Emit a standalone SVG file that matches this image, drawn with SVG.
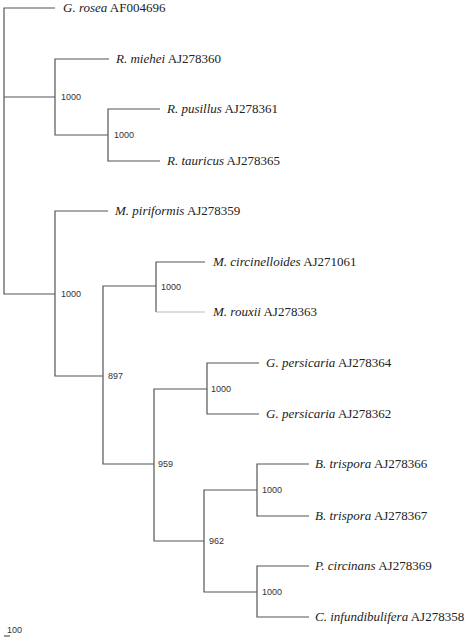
<svg xmlns="http://www.w3.org/2000/svg" width="474" height="644" viewBox="0 0 474 644">
<style>
.br{fill:none;stroke:#555;stroke-width:1.2}
.lt{stroke:#bbb}
.tx{font-family:"Liberation Serif","Times New Roman",serif;font-size:13px;fill:#222}
.it{font-style:italic}
.bs{font-family:"Liberation Sans",Arial,sans-serif;font-size:9px;fill:#333}
</style>
<rect width="474" height="644" fill="#fff"/>
<g id="connectors">
<path class="br" d="M55,8H4V294H55"/>
<path class="br" d="M4,97H55"/>
<path class="br" d="M109,59H55V135H108"/>
<path class="br" d="M160,109H108V161H160"/>
<path class="br" d="M108,211H55V376H103"/>
<path class="br" d="M156,286H103V464H154"/>
<path class="br" d="M205,262H156V312"/>
<path class="br lt" d="M156,312H205"/>
<path class="br" d="M207,389H154V541H204"/>
<path class="br" d="M259,363H207V414H259"/>
<path class="br" d="M257,490H204V592H257"/>
<path class="br" d="M309,464H257V516H309"/>
<path class="br" d="M309,566H257V617H309"/>
<path class="br" d="M4,636H10"/>
</g>
<g id="n-grosea"><text class="tx" x="63" y="12"><tspan class="it">G. rosea</tspan> AF004696</text></g>
<g id="n-rmiehei"><text class="tx" x="116" y="63"><tspan class="it">R. miehei</tspan> AJ278360</text></g>
<g id="n-rpusillus"><text class="tx" x="167" y="113"><tspan class="it">R. pusillus</tspan> AJ278361</text></g>
<g id="n-rtauricus"><text class="tx" x="167" y="165"><tspan class="it">R. tauricus</tspan> AJ278365</text></g>
<g id="n-mpiriformis"><text class="tx" x="115" y="215"><tspan class="it">M. piriformis</tspan> AJ278359</text></g>
<g id="n-mcirc"><text class="tx" x="213" y="266"><tspan class="it">M. circinelloides</tspan> AJ271061</text></g>
<g id="n-mrouxii"><text class="tx" x="213" y="316"><tspan class="it">M. rouxii</tspan> AJ278363</text></g>
<g id="n-gp364"><text class="tx" x="266" y="367"><tspan class="it">G. persicaria</tspan> AJ278364</text></g>
<g id="n-gp362"><text class="tx" x="266" y="418"><tspan class="it">G. persicaria</tspan> AJ278362</text></g>
<g id="n-bt366"><text class="tx" x="315" y="468"><tspan class="it">B. trispora</tspan> AJ278366</text></g>
<g id="n-bt367"><text class="tx" x="315" y="520"><tspan class="it">B. trispora</tspan> AJ278367</text></g>
<g id="n-pcirc"><text class="tx" x="315" y="570"><tspan class="it">P. circinans</tspan> AJ278369</text></g>
<g id="n-cinf"><text class="tx" x="315" y="621"><tspan class="it">C. infundibulifera</tspan> AJ278358</text></g>
<g id="bootstrap">
<text class="bs" x="61" y="100">1000</text>
<text class="bs" x="114" y="138">1000</text>
<text class="bs" x="61" y="297">1000</text>
<text class="bs" x="161" y="290">1000</text>
<text class="bs" x="108" y="379">897</text>
<text class="bs" x="158" y="467">959</text>
<text class="bs" x="211" y="392">1000</text>
<text class="bs" x="209" y="544">962</text>
<text class="bs" x="262" y="493">1000</text>
<text class="bs" x="262" y="595">1000</text>
</g>
<g id="scale"><text class="bs" x="7" y="633">100</text></g>
</svg>
